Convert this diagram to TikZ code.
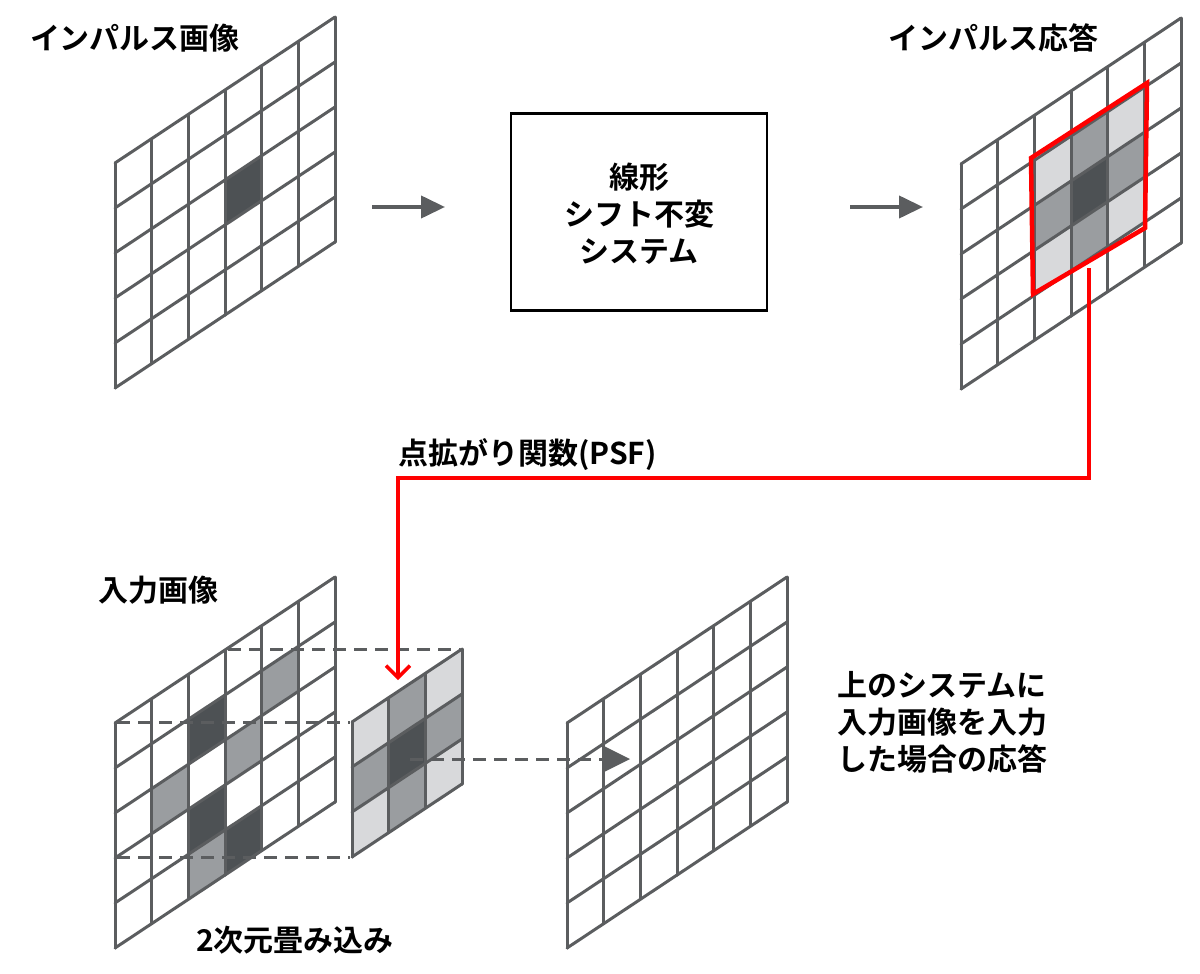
\documentclass[tikz,border=0pt]{standalone}
\usepackage{fontspec}
\setmainfont{Noto Sans CJK JP Bold}
\usetikzlibrary{arrows.meta}
\definecolor{gl}{HTML}{5B5D5F}
\definecolor{cdark}{HTML}{4D5154}
\definecolor{cmid}{HTML}{9A9DA0}
\definecolor{clight}{HTML}{D8D9DB}
\newcommand{\gpt}[4]{({#1+36.67*(#3)},{#2-24.33*(#3)-45*(#4)})}
\newcommand{\mygrid}[4]{%
  \foreach \c in {0,...,#3} {\draw[gridline] \gpt{#1}{#2}{\c}{0} -- \gpt{#1}{#2}{\c}{#4};}
  \foreach \r in {0,...,#4} {\draw[gridline] \gpt{#1}{#2}{0}{\r} -- \gpt{#1}{#2}{#3}{\r};}}
\newcommand{\mycell}[5]{\fill[#5] \gpt{#1}{#2}{#3}{#4} -- \gpt{#1}{#2}{#3+1}{#4} -- \gpt{#1}{#2}{#3+1}{#4+1} -- \gpt{#1}{#2}{#3}{#4+1} -- cycle;}
\begin{document}
\begin{tikzpicture}[x=1pt,y=-1pt,
  gridline/.style={draw=gl,line width=3pt,line cap=round,line join=round},
  lbl/.style={font=\fontsize{30}{37}\selectfont,align=center,inner sep=0pt},
  grayarrow/.style={draw=gl,line width=4pt,-{Triangle[length=24pt,width=22pt]}},
  dashline/.style={draw=gl,line width=3pt,dash pattern=on 13pt off 8pt}]
\fill[white] (0,0) rectangle (1200,974);
\useasboundingbox (0,0) rectangle (1200,974);
% top-left impulse image
\mycell{115}{388}{3}{2}{cdark}
\mygrid{115}{388}{6}{5}
% top-right impulse response
\mycell{961}{389}{2}{1}{clight}\mycell{961}{389}{3}{1}{cmid}\mycell{961}{389}{4}{1}{clight}
\mycell{961}{389}{2}{2}{cmid}\mycell{961}{389}{3}{2}{cdark}\mycell{961}{389}{4}{2}{cmid}
\mycell{961}{389}{2}{3}{clight}\mycell{961}{389}{3}{3}{cmid}\mycell{961}{389}{4}{3}{clight}
\mygrid{961}{389}{6}{5}
\draw[red,line width=4.5pt,line join=miter] (1031,158) -- (1147,83) -- (1145,228) -- (1033,294) -- cycle;
% box
\node[draw=black,line width=2.5pt,minimum width=256pt,minimum height=197pt,inner sep=0pt] (sys) at (639,212) {};
\node[lbl] (systxt) at (639,214) {線形\\シフト不変\\システム};
\coordinate (a1s) at (372,207); \coordinate (a1e) at (445,207);
\coordinate (a2s) at (850,207); \coordinate (a2e) at (923,207);
\draw[grayarrow] (a1s) -- (a1e);
\draw[grayarrow] (a2s) -- (a2e);
% bottom-left input image
\mycell{115}{948}{2}{3}{cdark}\mycell{115}{948}{2}{1}{cdark}\mycell{115}{948}{3}{0}{cdark}
\mycell{115}{948}{4}{3}{cmid}\mycell{115}{948}{3}{2}{cmid}\mycell{115}{948}{1}{2}{cmid}\mycell{115}{948}{2}{0}{cmid}
\mygrid{115}{948}{6}{5}
% PSF
\mycell{352}{857}{0}{0}{clight}\mycell{352}{857}{1}{0}{cmid}\mycell{352}{857}{2}{0}{clight}
\mycell{352}{857}{0}{1}{cmid}\mycell{352}{857}{1}{1}{cdark}\mycell{352}{857}{2}{1}{cmid}
\mycell{352}{857}{0}{2}{clight}\mycell{352}{857}{1}{2}{cmid}\mycell{352}{857}{2}{2}{clight}
\mygrid{352}{857}{3}{3}
% dashed projection lines
\coordinate (d1a) at (117,722); \coordinate (d1b) at (350,722);
\coordinate (d2a) at (117,857); \coordinate (d2b) at (350,857);
\coordinate (d3a) at (228,649); \coordinate (d3b) at (460,649);
\draw[dashline] (d1a) -- (d1b);
\draw[dashline] (d2a) -- (d2b);
\draw[dashline] (d3a) -- (d3b);
% bottom-right output grid
\mygrid{567}{948}{6}{5}
\coordinate (c1) at (410,759); \coordinate (c2) at (605,759); \coordinate (c3) at (630,759);
\draw[dashline] (c1) -- (c2);
\fill[gl] (604,746) -- (630,759) -- (604,772) -- cycle;
% red PSF connector
\coordinate (r0) at (1089,268); \coordinate (r1) at (1089,478); \coordinate (r2) at (398,478); \coordinate (r3) at (398,680);
\draw[red,line width=3.5pt,line join=miter,-{Straight Barb[length=12pt,width=24pt,line width=3.5pt]}] (r0) -- (r1) -- (r2) -- (r3);
% labels
\node[lbl] (t1) at (135,38) {インパルス画像};
\node[lbl] (t2) at (993,38) {インパルス応答};
\node[lbl,anchor=west] (t3) at (398,455) {点拡がり関数(PSF)};
\node[lbl] (t4) at (158,590) {入力画像};
\node[lbl] (t5) at (295,940) {2次元畳み込み};
\node[lbl] (t6) at (942,722) {上のシステムに\\入力画像を入力\\した場合の応答};
\end{tikzpicture}
\end{document}
